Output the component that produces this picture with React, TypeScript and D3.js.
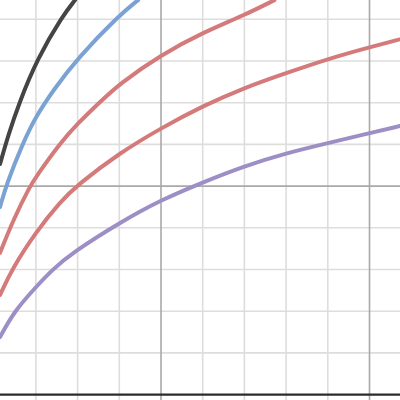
import React, { useEffect, useRef } from 'react';
import * as d3 from 'd3';

// Values (grid units: one minor square = 1)
const blackX = [1.14, 1.33, 1.6, 2.03, 2.65, 2.94];
const blackY = [5.53, 6.2, 7.0, 8.05, 9.1, 9.46];

const blueX = [1.14, 1.29, 1.69, 2, 2.41, 3, 4, 4.45];
const blueY = [4.5, 5.03, 6.04, 6.67, 7.29, 8.07, 9.1, 9.46];

const redUpperX = [1.14, 1.46, 1.86, 2, 2.58, 3, 3.54, 4, 5, 6, 7, 7.72];
const redUpperY = [3.4, 4.2, 5.0, 5.22, 6.03, 6.5, 7.02, 7.45, 8.15, 8.68, 9.1, 9.46];

const redLowerX = [1.14, 1.43, 2, 2.58, 3, 4, 5, 6, 7, 8, 9, 10, 10.73];
const redLowerY = [2.39, 3.02, 3.9, 4.62, 5.03, 5.79, 6.39, 6.92, 7.36, 7.71, 8.05, 8.33, 8.52];

const purpleX = [1.14, 1.475, 2, 2.39, 2.87, 4, 5, 6, 7, 8, 9, 10, 10.73];
const purpleY = [1.38, 1.99, 2.58, 2.99, 3.4, 4.12, 4.67, 5.09, 5.48, 5.79, 6.03, 6.27, 6.44];

const seriesColors = ['#444444', '#7aa3d3', '#d57a7a', '#d57a7a', '#9d8fc5'];

const W = 400;
const H = 400;

export default function App() {
  const svgRef = useRef<SVGSVGElement>(null);

  useEffect(() => {
    if (!svgRef.current) return;
    const svg = d3.select(svgRef.current);
    svg.selectAll('*').remove();

    const unit = 41.7;
    const x0 = 5 - 161 / unit;
    const y0 = -5.4 / unit;
    const x = d3.scaleLinear().domain([x0, x0 + W / unit]).range([0, W]);
    const y = d3.scaleLinear().domain([y0, y0 + H / unit]).range([H, 0]);

    svg.append('rect').attr('width', W).attr('height', H).attr('fill', '#fff');

    const xs = d3.range(Math.ceil(x.domain()[0]), x.domain()[1], 1);
    const ys = d3.range(Math.ceil(y.domain()[0]), y.domain()[1], 1);

    // minor grid
    const grid = svg.append('g');
    grid.selectAll('line.vx')
      .data(xs.filter(d => d % 5 !== 0))
      .enter().append('line')
      .attr('x1', d => x(d)).attr('x2', d => x(d))
      .attr('y1', 0).attr('y2', H)
      .attr('stroke', '#dddddd').attr('stroke-width', 1.6);
    grid.selectAll('line.hy')
      .data(ys.filter(d => d % 5 !== 0))
      .enter().append('line')
      .attr('y1', d => y(d)).attr('y2', d => y(d))
      .attr('x1', 0).attr('x2', W)
      .attr('stroke', '#dddddd').attr('stroke-width', 1.6);

    // major grid
    grid.selectAll('line.mx')
      .data(xs.filter(d => d % 5 === 0 && d !== 0))
      .enter().append('line')
      .attr('x1', d => x(d)).attr('x2', d => x(d))
      .attr('y1', 0).attr('y2', H)
      .attr('stroke', '#a9a9a9').attr('stroke-width', 1.6);
    grid.selectAll('line.my')
      .data(ys.filter(d => d % 5 === 0 && d !== 0))
      .enter().append('line')
      .attr('y1', d => y(d)).attr('y2', d => y(d))
      .attr('x1', 0).attr('x2', W)
      .attr('stroke', '#a9a9a9').attr('stroke-width', 1.6);

    // x axis
    svg.append('line')
      .attr('x1', 0).attr('x2', W)
      .attr('y1', y(0)).attr('y2', y(0))
      .attr('stroke', '#2b2b2b').attr('stroke-width', 2.4);

    const series = [
      [blackX, blackY],
      [blueX, blueY],
      [redUpperX, redUpperY],
      [redLowerX, redLowerY],
      [purpleX, purpleY],
    ];

    svg.append('clipPath').attr('id', 'plot-clip')
      .append('rect').attr('width', W).attr('height', H);

    const line = d3.line<[number, number]>()
      .x(d => x(d[0]))
      .y(d => y(d[1]))
      .curve(d3.curveBasis);

    const curves = svg.append('g').attr('clip-path', 'url(#plot-clip)');
    series.slice().reverse().forEach((s, i) => {
      const pts = s[0].map((v, j) => [v, s[1][j]] as [number, number]);
      curves.append('path')
        .attr('d', line(pts) || '')
        .attr('fill', 'none')
        .attr('stroke', seriesColors[series.length - 1 - i])
        .attr('stroke-width', 4)
        .attr('stroke-linecap', 'round');
    });
  }, []);

  return (
    <svg
      ref={svgRef}
      width={W}
      height={H}
      style={{ position: 'fixed', top: 0, left: 0, display: 'block' }}
    />
  );
}
